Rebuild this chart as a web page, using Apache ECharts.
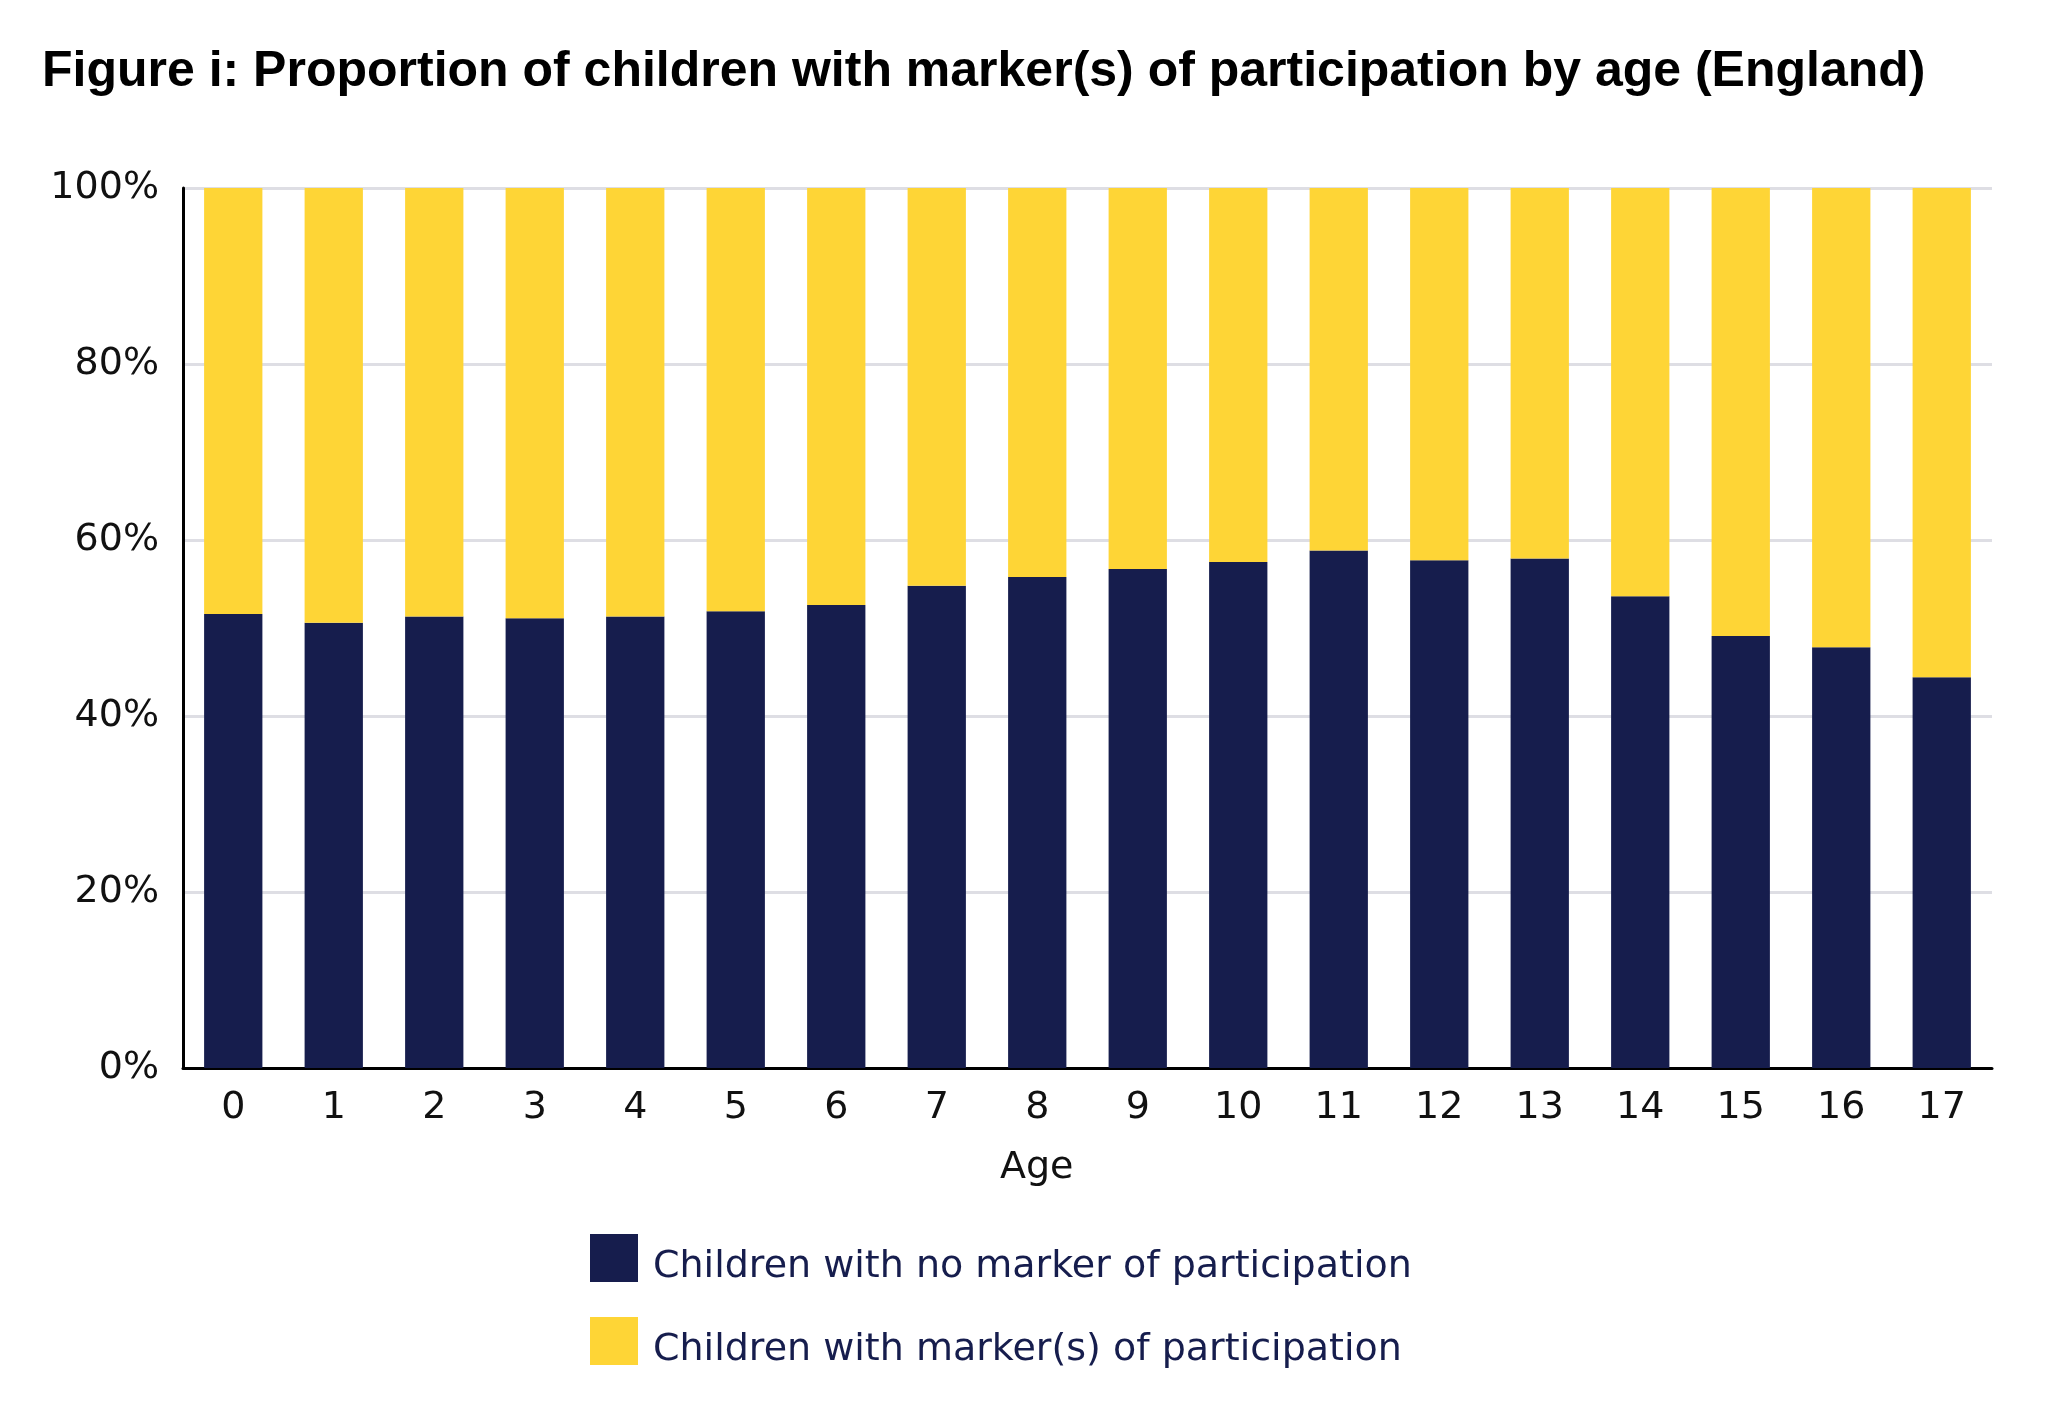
<!DOCTYPE html>
<html>
<head>
<meta charset="utf-8">
<script src="https://cdn.jsdelivr.net/npm/echarts@6/dist/echarts.min.js"></script>
<style>html,body{margin:0;padding:0;background:#fff}#c{width:2048px;height:1426px}</style>
</head>
<body>
<div id="c"></div>
<script>
const ages = ['0','1','2','3','4','5','6','7','8','9','10','11','12','13','14','15','16','17'];
const noMarker = [51.6, 50.6, 51.3, 51.1, 51.3, 51.9, 52.6, 54.8, 55.8, 56.7, 57.5, 58.8, 57.7, 57.9, 53.6, 49.1, 47.8, 44.4];
const withMarker = noMarker.map(v => +(100 - v).toFixed(1));
const yTicks = [0, 20, 40, 60, 80, 100];
const seriesNames = ['Children with no marker of participation', 'Children with marker(s) of participation'];
const titleText = 'Figure i: Proportion of children with marker(s) of participation by age (England)';

const NAVY = '#161d4d';
const YELLOW = '#fed536';
const FONT = '"DejaVu Sans", Roboto, sans-serif';

const chart = echarts.init(document.getElementById('c'), null, {renderer: 'canvas'});
chart.setOption({
  backgroundColor: '#fff',
  animation: false,
  title: {
    text: titleText,
    left: 37, top: 42,
    textStyle: {fontFamily: '"Liberation Sans", Arial, sans-serif', fontWeight: 'bold', fontSize: 50, color: '#000'}
  },
  legend: {
    orient: 'vertical',
    left: 585, top: 1229,
    itemWidth: 48, itemHeight: 48, itemGap: 31,
    icon: 'rect',
    data: seriesNames,
    formatter: n => '{t|' + n + '}',
    textStyle: {fontFamily: FONT, fontSize: 38, color: NAVY, padding: [0, 0, 0, 10],
      rich: {t: {fontFamily: FONT, fontSize: 38, color: NAVY, padding: [18, 0, 0, 0]}}}
  },
  grid: {left: 183, right: 56, top: 188, bottom: 358, containLabel: false},
  xAxis: {
    type: 'category',
    data: ages,
    axisLine: {show: true, lineStyle: {color: '#000', width: 3}},
    axisTick: {show: false},
    axisLabel: {fontFamily: FONT, fontSize: 38, color: '#111', margin: 21}
  },
  yAxis: {
    type: 'value',
    min: 0, max: 100, interval: 20,
    axisLine: {show: true, lineStyle: {color: '#000', width: 3}},
    axisTick: {show: false},
    splitLine: {show: true, lineStyle: {color: '#dedee4', width: 3}},
    axisLabel: {fontFamily: FONT, fontSize: 38, color: '#111', margin: 24,
      formatter: v => yTicks.includes(v) ? v + '%' : ''}
  },
  graphic: [{
    type: 'text', left: 1037 - 37, top: 1149,
    style: {text: 'Age', font: '38px ' + FONT, fill: '#111'}
  }],
  series: [
    {name: seriesNames[0], type: 'bar', stack: 'a', data: noMarker, barCategoryGap: '42%',
      itemStyle: {color: NAVY}},
    {name: seriesNames[1], type: 'bar', stack: 'a', data: withMarker, barCategoryGap: '42%',
      itemStyle: {color: YELLOW}}
  ]
});
</script>
</body>
</html>
